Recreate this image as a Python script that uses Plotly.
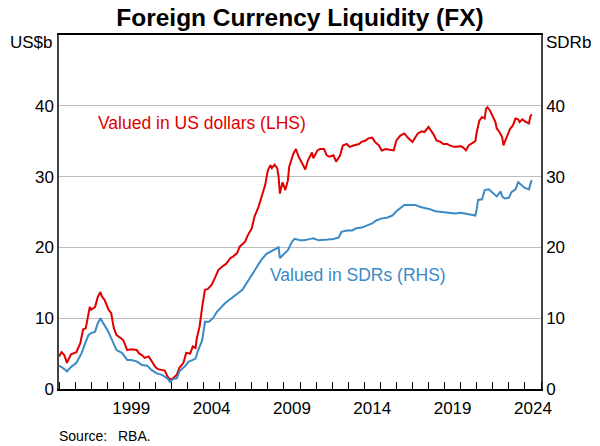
import plotly.graph_objects as go

# ---------------- data ----------------
usd_dates = [
    "1995-01", "1995-03", "1995-05", "1995-07", "1995-10", "1996-02", "1996-05", "1996-07",
    "1996-09", "1996-11", "1996-12", "1997-01", "1997-04", "1997-06", "1997-08", "1997-09",
    "1997-11", "1998-02", "1998-04", "1998-06", "1998-08", "1998-11", "1999-01", "1999-04",
    "1999-07", "1999-11", "2000-01", "2000-03", "2000-05", "2000-08", "2000-11", "2001-01",
    "2001-03", "2001-06", "2001-08", "2001-10", "2001-12", "2002-02", "2002-05", "2002-07",
    "2002-10", "2002-12", "2003-03", "2003-05", "2003-07", "2003-08", "2003-10", "2003-12",
    "2004-02", "2004-04", "2004-07", "2004-10", "2004-12", "2005-03", "2005-06", "2005-09",
    "2005-11", "2006-02", "2006-04", "2006-08", "2006-10", "2007-01", "2007-03", "2007-06",
    "2007-08", "2007-11", "2008-01", "2008-03", "2008-04", "2008-06", "2008-08", "2008-09",
    "2008-10", "2008-12", "2009-02", "2009-04", "2009-05", "2009-08", "2009-10", "2009-12",
    "2010-02", "2010-05", "2010-07", "2010-10", "2010-11", "2011-02", "2011-04", "2011-07",
    "2011-09", "2011-11", "2012-02", "2012-04", "2012-07", "2012-09", "2012-12", "2013-02",
    "2013-05", "2013-09", "2013-11", "2014-02", "2014-04", "2014-07", "2014-09", "2014-12",
    "2015-02", "2015-05", "2015-08", "2015-11", "2016-01", "2016-04", "2016-07", "2016-10",
    "2017-01", "2017-03", "2017-05", "2017-08", "2017-10", "2018-01", "2018-03", "2018-05",
    "2018-07", "2018-10", "2018-12", "2019-03", "2019-05", "2019-08", "2019-10", "2020-01",
    "2020-03", "2020-05", "2020-07", "2020-09", "2020-12", "2021-01", "2021-03", "2021-05",
    "2021-07", "2021-08", "2021-09", "2021-11", "2022-01", "2022-03", "2022-04", "2022-06",
    "2022-08", "2022-09", "2022-10", "2022-12", "2023-02", "2023-04", "2023-06", "2023-08",
    "2023-09", "2023-11", "2024-01", "2024-04", "2024-05", "2024-06",
]
usd_values = [
    4.6, 5.2, 4.8, 3.7, 4.9, 5.2, 6.5, 8.4,
    8.6, 10.9, 11.6, 11.2, 11.6, 13.0, 13.7, 13.1,
    12.6, 11.2, 10.7, 8.6, 7.6, 7.2, 6.9, 5.5,
    5.6, 5.5, 5.0, 4.8, 4.4, 4.6, 3.7, 3.1,
    2.8, 2.7, 2.6, 1.8, 1.3, 1.5, 2.0, 3.0,
    3.7, 5.1, 5.0, 6.0, 5.8, 7.2, 8.8, 11.6,
    14.0, 14.1, 14.7, 15.9, 16.8, 17.3, 17.7, 18.5,
    18.7, 19.2, 20.1, 20.8, 21.7, 22.7, 24.3, 25.7,
    27.1, 28.8, 30.9, 31.6, 31.2, 31.7, 31.2, 30.0,
    27.6, 29.2, 28.1, 29.5, 31.4, 33.2, 33.9, 32.8,
    32.1, 31.0, 32.3, 33.4, 32.6, 33.7, 33.9, 33.9,
    33.0, 32.8, 33.0, 32.1, 33.0, 34.4, 34.6, 34.2,
    34.4, 34.6, 34.9, 35.1, 35.4, 35.5, 34.9, 34.4,
    33.7, 33.9, 33.8, 33.7, 35.1, 35.8, 36.1, 35.4,
    34.9, 35.6, 36.1, 36.4, 36.3, 37.0, 36.5, 35.9,
    35.1, 34.9, 34.6, 34.6, 34.4, 34.2, 34.2, 34.3,
    34.1, 33.7, 34.4, 34.6, 35.0, 36.3, 37.9, 38.4,
    38.2, 39.6, 39.8, 39.3, 38.4, 37.7, 36.8, 36.3,
    35.6, 34.4, 34.9, 35.9, 36.8, 37.2, 38.2, 38.1,
    37.7, 38.1, 37.8, 37.5, 38.4, 38.8,
]

sdr_dates = [
    "1995-01", "1995-03", "1995-07", "1995-10", "1996-02", "1996-06", "1996-08", "1996-11",
    "1997-01", "1997-04", "1997-06", "1997-08", "1997-10", "1998-01", "1998-03", "1998-06",
    "1998-08", "1998-12", "1999-04", "1999-07", "1999-11", "2000-03", "2000-07", "2000-10",
    "2001-02", "2001-06", "2001-10", "2001-12", "2002-02", "2002-05", "2002-07", "2002-11",
    "2003-02", "2003-04", "2003-07", "2003-09", "2003-12", "2004-02", "2004-05", "2004-08",
    "2004-11", "2005-05", "2005-09", "2006-01", "2006-06", "2006-09", "2007-01", "2007-05",
    "2007-08", "2007-12", "2008-03", "2008-06", "2008-09", "2008-10", "2009-01", "2009-04",
    "2009-07", "2009-09", "2010-01", "2010-04", "2010-09", "2010-11", "2011-03", "2011-06",
    "2011-10", "2012-02", "2012-06", "2012-08", "2012-12", "2013-04", "2013-07", "2013-11",
    "2014-03", "2014-07", "2014-10", "2015-02", "2015-06", "2015-10", "2016-01", "2016-04",
    "2016-07", "2016-11", "2017-03", "2017-07", "2017-10", "2018-02", "2018-06", "2018-10",
    "2019-01", "2019-05", "2019-09", "2020-01", "2020-04", "2020-08", "2020-12", "2021-01",
    "2021-02", "2021-05", "2021-07", "2021-10", "2021-12", "2022-03", "2022-04", "2022-07",
    "2022-08", "2022-10", "2023-01", "2023-03", "2023-06", "2023-08", "2023-11", "2024-01",
    "2024-04", "2024-05", "2024-06",
]
sdr_values = [
    3.3, 3.1, 2.5, 3.1, 3.7, 5.1, 6.2, 7.6,
    7.9, 8.1, 9.3, 10.0, 9.3, 8.4, 7.6, 6.2,
    5.5, 5.1, 4.1, 4.1, 3.9, 3.4, 3.3, 2.7,
    2.2, 2.0, 1.5, 1.0, 1.4, 1.5, 2.5, 3.2,
    3.9, 4.0, 4.3, 5.5, 6.9, 9.5, 9.5, 10.0,
    10.9, 12.1, 12.7, 13.3, 14.0, 14.9, 16.1, 17.3,
    18.2, 19.1, 19.4, 19.7, 20.0, 18.5, 19.0, 19.6,
    20.8, 21.2, 21.0, 21.0, 21.2, 21.3, 21.0, 21.0,
    21.1, 21.2, 21.4, 22.2, 22.4, 22.4, 22.7, 22.8,
    23.1, 23.4, 23.8, 24.1, 24.2, 24.5, 25.1, 25.5,
    26.0, 26.0, 26.0, 25.7, 25.6, 25.4, 25.1, 25.0,
    24.9, 24.9, 24.8, 24.9, 24.8, 24.7, 24.5, 25.4,
    26.7, 26.8, 28.1, 28.2, 27.9, 27.4, 27.2, 27.9,
    27.2, 26.9, 27.0, 27.8, 28.2, 29.2, 28.7, 28.4,
    28.2, 29.0, 29.5,
]

year_ticks = [f"{y}-01-01" for y in range(1995, 2026)]
label_years = ["1999", "2004", "2009", "2014", "2019", "2024"]
label_pos = [f"{y}-07-02" for y in label_years]
y_ticks = [0, 10, 20, 30, 40]

RED = "#e10000"
BLUE = "#3b8ac6"
FONT = "Liberation Sans, Arial, sans-serif"

fig = go.Figure()
fig.add_trace(go.Scatter(x=usd_dates, y=usd_values, mode="lines",
                         line=dict(color=RED, width=2), yaxis="y", showlegend=False))
fig.add_trace(go.Scatter(x=sdr_dates, y=sdr_values, mode="lines",
                         line=dict(color=BLUE, width=2), yaxis="y2", showlegend=False))

axis_font = dict(family=FONT, size=17, color="black")
fig.update_layout(
    width=600, height=446,
    margin=dict(l=59, r=59, t=35, b=57),
    paper_bgcolor="white", plot_bgcolor="white",
    font=dict(family=FONT, color="black"),
    title=dict(text="<b>Foreign Currency Liquidity (FX)</b>", x=0.5, xanchor="center",
               y=1 - 17 / 446, yanchor="middle", yref="container",
               font=dict(family=FONT, size=24.5, color="black")),
    xaxis=dict(type="date", range=["1995-01-01", "2025-01-01"],
               tickmode="array", tickvals=label_pos, ticktext=label_years,
               ticks="", tickfont=axis_font, ticklabelstandoff=3,
               showgrid=False, zeroline=False,
               showline=True, linecolor="black", linewidth=1.5, mirror=True,
               minor=dict(tickmode="array", tickvals=year_ticks, ticks="inside",
                          ticklen=7, tickwidth=1.2, tickcolor="black", showgrid=False)),
    yaxis=dict(range=[0, 50], tickmode="array", tickvals=y_ticks, ticks="",
               tickfont=axis_font, showgrid=True, gridcolor="#bdbdbd", gridwidth=1.2,
               zeroline=False, showline=True, linecolor="#444444", linewidth=1.5),
    yaxis2=dict(range=[0, 50], tickmode="array", tickvals=y_ticks, ticks="",
                tickfont=axis_font, overlaying="y", side="right", showgrid=False,
                zeroline=False, showline=True, linecolor="#444444", linewidth=1.5),
)

fig.add_annotation(text="US$b", xref="paper", yref="paper", x=-0.008, y=0.98, xanchor="right",
                   yanchor="middle", showarrow=False, font=dict(family=FONT, size=17, color="black"))
fig.add_annotation(text="SDRb", xref="paper", yref="paper", x=1.006, y=0.98, xanchor="left",
                   yanchor="middle", showarrow=False, font=dict(family=FONT, size=17, color="black"))
fig.add_annotation(text="Valued in US dollars (LHS)", xref="paper", yref="paper", x=0.2967, y=0.752,
                   xanchor="center", yanchor="middle", showarrow=False,
                   font=dict(family=FONT, size=17.5, color=RED))
fig.add_annotation(text="Valued in SDRs (RHS)", xref="paper", yref="paper", x=0.620, y=0.322,
                   xanchor="center", yanchor="middle", showarrow=False,
                   font=dict(family=FONT, size=17.5, color=BLUE))
fig.add_annotation(text="Source:", xref="paper", yref="paper", x=-0.005, y=-0.133, xanchor="left",
                   yanchor="middle", showarrow=False, font=dict(family=FONT, size=14, color="black"))
fig.add_annotation(text="RBA.", xref="paper", yref="paper", x=0.118, y=-0.133, xanchor="left",
                   yanchor="middle", showarrow=False, font=dict(family=FONT, size=14, color="black"))

fig.write_html("out.html")
